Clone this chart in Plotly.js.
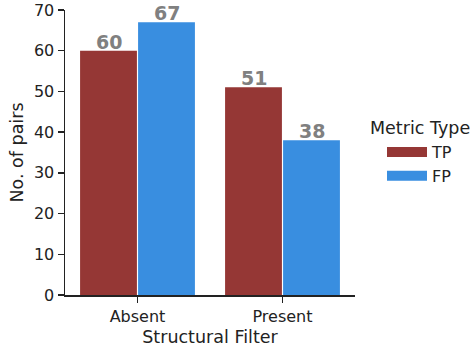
<!DOCTYPE html>
<html><head><meta charset="utf-8">
<script src="https://cdn.plot.ly/plotly-3.0.1.min.js"></script>
<style>html,body{margin:0;padding:0;background:#fff}#chart{width:474px;height:352px}</style>
</head><body><div id="chart"></div>
<script>
const categories = ["Absent", "Present"];
const seriesNames = ["TP", "FP"];
const tpValues = [60, 51];
const fpValues = [67, 38];
const yTicks = [0, 10, 20, 30, 40, 50, 60, 70];

const colors = {TP: "#953735", FP: "#398ee0"};
const font = "DejaVu Sans, sans-serif";

function mk(name, vals) {
  return {
    type: "bar", name: name, x: categories, y: vals,
    marker: {color: colors[name], line: {width: 0}},
    hoverinfo: "none", showlegend: false
  };
}
function legendTrace(name) {
  return {
    type: "scatter", mode: "lines", name: name, x: [null], y: [null],
    line: {color: colors[name], width: 10}, showlegend: true, hoverinfo: "none"
  };
}

// value labels placed at each bar top (offset to the grouped bar centre)
const labelAnnotations = [];
[[tpValues, -29], [fpValues, 29]].forEach(([vals, dx]) => {
  vals.forEach((v, i) => {
    labelAnnotations.push({
      x: categories[i], y: v, xref: "x", yref: "y", text: String(v),
      xshift: dx, yshift: -4, yanchor: "bottom", showarrow: false,
      font: {family: font, size: 19, color: "#808080", weight: "bold"}
    });
  });
});

Plotly.newPlot("chart", [mk("TP", tpValues), mk("FP", fpValues), legendTrace("TP"), legendTrace("FP")], {
  width: 474, height: 352,
  margin: {l: 65, r: 119, t: 10, b: 57},
  paper_bgcolor: "#fff", plot_bgcolor: "#fff",
  barmode: "group", bargap: 0.2, bargroupgap: 0.02,
  font: {family: font, size: 16, color: "#222"},
  xaxis: {
    type: "category",
    range: [-0.5, 1.5], showline: true, linecolor: "#222", linewidth: 1.5,
    ticks: "outside", ticklen: 6, tickwidth: 1.5, tickcolor: "#222",
    showgrid: false, zeroline: false,
    tickfont: {size: 16},
    title: {text: "Structural Filter", font: {size: 17.5}, standoff: 6}
  },
  yaxis: {
    range: [0, 70], tickvals: yTicks, showline: true, linecolor: "#222", linewidth: 1.5,
    ticks: "outside", ticklen: 6, tickwidth: 1.5, tickcolor: "#222",
    showgrid: false, zeroline: false,
    tickfont: {size: 16},
    title: {text: "No. of pairs", font: {size: 17.5}, standoff: 6}
  },
  annotations: labelAnnotations.concat([{
    text: "Metric Type", xref: "paper", yref: "paper",
    x: (368 - 65) / 290, xanchor: "left", y: (295 - 128) / 285, yanchor: "middle",
    showarrow: false, font: {size: 17.5, color: "#222"}
  }]),
  legend: {
    x: (382 - 65) / 290, xanchor: "left", y: (295 - 135) / 285, yanchor: "top",
    font: {size: 16}, bgcolor: "rgba(0,0,0,0)", tracegroupgap: 0, itemwidth: 40
  },
  showlegend: true
}, {staticPlot: true});
</script></body></html>
